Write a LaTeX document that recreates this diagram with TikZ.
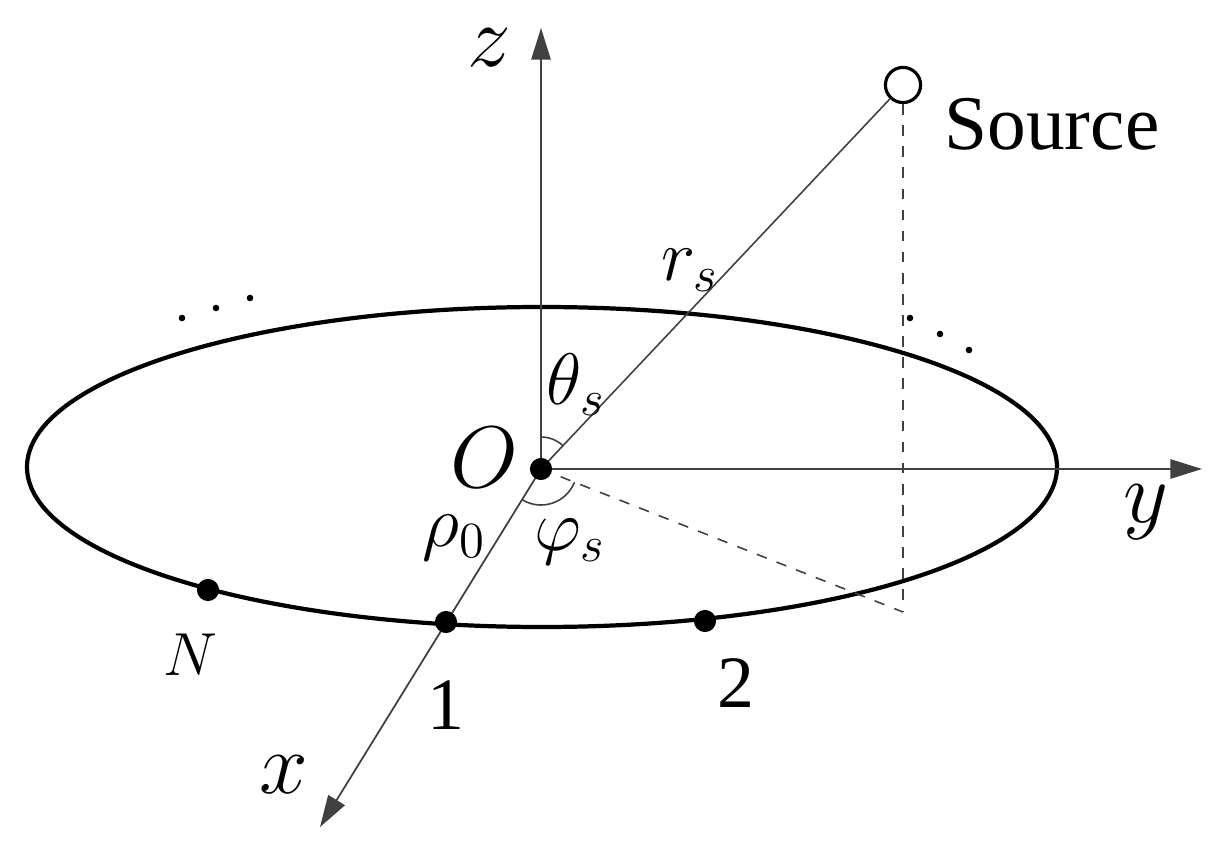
\documentclass[tikz,border=0pt]{standalone}
\usepackage{fontspec}
\setmainfont{Liberation Serif}
\usetikzlibrary{arrows.meta,calc}
\begin{document}
\begin{tikzpicture}[x=0.01cm,y=-0.01cm,
 ax/.style={draw=black!75,line width=0.5pt,-{Triangle[length=9pt,width=5.5pt]}},
 thin/.style={draw=black!75,line width=0.45pt},
 dsh/.style={draw=black!75,line width=0.45pt,dashed},
 elem/.style={circle,fill=black,inner sep=0pt,minimum size=6.3pt},
 lab/.style={font=\fontsize{21}{24}\selectfont},
 big/.style={font=\fontsize{40}{44}\selectfont}]
\useasboundingbox (0,0) rectangle (1221,843);
\coordinate (O) at (541,469);
\coordinate (P) at (903,612);
\coordinate (zt) at (541,28);
\coordinate (yt) at (1202,469);
\coordinate (xt) at (320,827);
\draw[line width=1.2pt] (542,467) ellipse [x radius=515, y radius=160];
\draw[ax] (O) -- (zt);
\draw[ax] (O) -- (yt);
\draw[ax] (O) -- (xt);
\node[circle,draw,fill=white,line width=0.9pt,minimum size=10pt,inner sep=0pt] (S) at (903,85) {};
\draw[thin] (O) -- (S);
\draw[dsh] (S) -- (P);
\draw[dsh] (O) -- (P);
\draw[thin] ($(O)+(270:32)$) arc[start angle=270,end angle=313.3,radius=32];
\draw[thin] ($(O)+(21.6:36)$) arc[start angle=21.6,end angle=121.7,radius=36];
\node[elem] (e1) at (446,622) {};
\node[elem] (e2) at (705,621) {};
\node[elem] (eN) at (208,590) {};
\node[elem] (o) at (O) {};
\node[big] at (489,48) {$z$};
\node[big] at (1146,512) {$y$};
\node[big] at (284,775) {$x$};
\node[font=\fontsize{30}{34}\selectfont] at (484,458) {$O$};
\node[lab] at (454,538) {$\rho_0$};
\node[lab] at (570,542) {$\varphi_s$};
\node[lab] at (576,385) {$\theta_s$};
\node[lab] at (690,270) {$r_s$};
\node[font=\fontsize{22}{26}\selectfont] at (1052,124) {Source};
\node[font=\fontsize{18}{22}\selectfont] at (190,655) {$N$};
\node[lab] at (446,705) {1};
\node[lab] at (736,683) {2};
\foreach \p in {(182,318),(216,308),(250,298),(910,318),(940,334),(969,350)} \fill \p circle (3.3);
\end{tikzpicture}
\end{document}
